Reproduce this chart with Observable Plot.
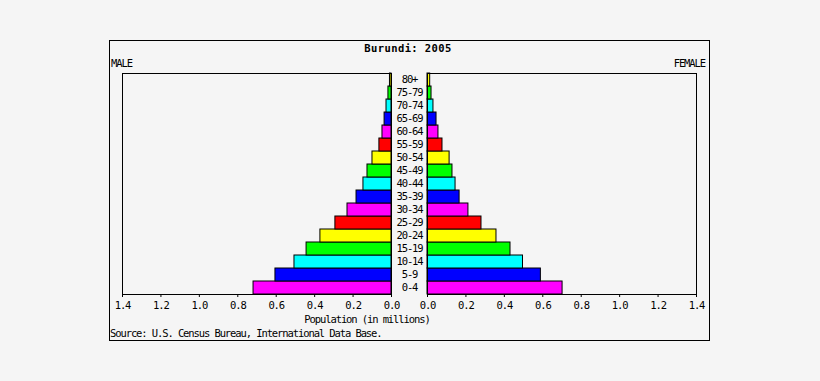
<!DOCTYPE html>
<html>
<head>
<meta charset="utf-8">
<script src="https://cdn.jsdelivr.net/npm/d3@7"></script>
<script src="https://cdn.jsdelivr.net/npm/@observablehq/plot@0.6"></script>
<style>
  html, body { margin: 0; padding: 0; background: #f5f5f5; }
  #page { position: relative; width: 820px; height: 381px; background: #f5f5f5; overflow: hidden;
          font-family: "DejaVu Sans Mono", monospace; font-size: 10.5px; letter-spacing: -1.1px; color: #000; }
  #box { position: absolute; left: 109px; top: 40px; width: 599px; height: 299px; border: 1px solid #000; }
  .t { position: absolute; line-height: 11px; white-space: nowrap; }
  .chart { position: absolute; }
</style>
</head>
<body>
<div id="page">
  <div id="box"></div>
  <div class="t" id="title" style="left:308px; width:200px; text-align:center; top:43px; font-weight:bold; letter-spacing:0.4px;">Burundi: 2005</div>
  <div class="t" style="left:111px; top:58px;">MALE</div>
  <div class="t" style="left:505px; width:200px; text-align:right; top:58px;">FEMALE</div>
  <div class="t" style="left:267px; width:200px; text-align:center; top:314px;">Population (in millions)</div>
  <div class="t" style="left:110px; top:328px;">Source: U.S. Census Bureau, International Data Base.</div>
  <div class="chart" id="male" style="left:109px; top:66px;"></div>
  <div class="chart" id="female" style="left:391px; top:66px;"></div>
</div>
<script>
const ages = ["0-4","5-9","10-14","15-19","20-24","25-29","30-34","35-39","40-44","45-49","50-54","55-59","60-64","65-69","70-74","75-79","80+"];
const male = [0.718,0.604,0.505,0.442,0.370,0.292,0.229,0.182,0.146,0.125,0.099,0.063,0.047,0.036,0.026,0.016,0.008];
const female = [0.703,0.590,0.497,0.432,0.359,0.281,0.213,0.167,0.146,0.130,0.115,0.078,0.057,0.047,0.031,0.021,0.014];
const tickValues = [0,0.2,0.4,0.6,0.8,1.0,1.2,1.4];
const palette = ["#ff00ff","#0000ff","#00ffff","#00ff00","#ffff00","#ff0000"];

const maleData = ages.map((age, i) => ({age, value: male[i], color: palette[i % palette.length]}));
const femaleData = ages.map((age, i) => ({age, value: female[i], color: palette[i % palette.length]}));

const commonStyle = {fontFamily: "DejaVu Sans Mono, monospace", fontSize: "10.5px", letterSpacing: "-1.1px", background: "transparent", overflow: "visible", color: "#000"};
const yScale = {domain: ages.slice().reverse(), padding: 0, round: false};

const maleChart = Plot.plot({
  width: 300, height: 248,
  marginLeft: 13, marginRight: 18, marginTop: 7, marginBottom: 20,
  style: commonStyle,
  x: {domain: [0, 1.4], reverse: true, label: null, round: false},
  y: {...yScale, axis: null},
  marks: [
    Plot.barX(maleData, {y: "age", x: "value", fill: "color", stroke: "black", strokeWidth: 1}),
    Plot.frame({stroke: "black", strokeWidth: 1}),
    Plot.axisX({ticks: tickValues, tickFormat: d3.format(".1f"), tickSize: 3, tickPadding: 4, label: null, stroke: "black"})
  ]
});
document.getElementById("male").appendChild(maleChart);

const femaleChart = Plot.plot({
  width: 320, height: 248,
  marginLeft: 36, marginRight: 15, marginTop: 7, marginBottom: 20,
  style: commonStyle,
  x: {domain: [0, 1.4], label: null, round: false},
  y: {...yScale},
  marks: [
    Plot.barX(femaleData, {y: "age", x: "value", fill: "color", stroke: "black", strokeWidth: 1}),
    Plot.frame({stroke: "black", strokeWidth: 1}),
    Plot.axisX({ticks: tickValues, tickFormat: d3.format(".1f"), tickSize: 3, tickPadding: 4, label: null, stroke: "black"}),
    Plot.axisY({anchor: "left", tickSize: 0, tickPadding: 18, textAnchor: "middle", label: null})
  ]
});
document.getElementById("female").appendChild(femaleChart);
</script>
</body>
</html>
